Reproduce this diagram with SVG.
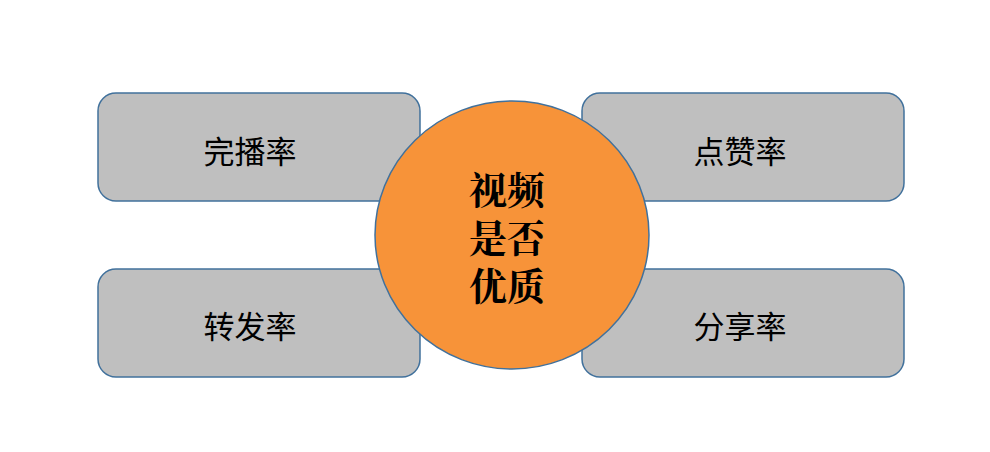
<svg xmlns="http://www.w3.org/2000/svg" width="990" height="452" viewBox="0 0 990 452">
<style>
.box{fill:#BFBFBF;stroke:#41719C;stroke-width:1.5}
.t{font-family:"Noto Sans CJK SC","Noto Sans CJK JP",sans-serif;font-size:31px;fill:#000;text-anchor:middle;dominant-baseline:central}
.c{font-family:"Noto Serif CJK SC","Noto Sans CJK SC",serif;font-size:38px;font-weight:bold;fill:#000;text-anchor:middle;dominant-baseline:central}
</style>
<rect width="990" height="452" fill="#fff"/>
<g id="n1"><rect class="box" x="98" y="93" width="322" height="108" rx="18"/><text class="t" x="250" y="149">完播率</text></g>
<g id="n2"><rect class="box" x="582" y="93" width="322" height="108" rx="18"/><text class="t" x="740" y="149">点赞率</text></g>
<g id="n3"><rect class="box" x="98" y="269" width="322" height="108" rx="18"/><text class="t" x="250" y="324">转发率</text></g>
<g id="n4"><rect class="box" x="582" y="269" width="322" height="108" rx="18"/><text class="t" x="740" y="324">分享率</text></g>
<g id="connectors"></g>
<g id="center"><ellipse cx="512" cy="235" rx="137" ry="134" fill="#F79339" stroke="#41719C" stroke-width="1.5"/>
<text class="c" x="507" y="187">视频</text><text class="c" x="507" y="235">是否</text><text class="c" x="507" y="283">优质</text></g>
</svg>
